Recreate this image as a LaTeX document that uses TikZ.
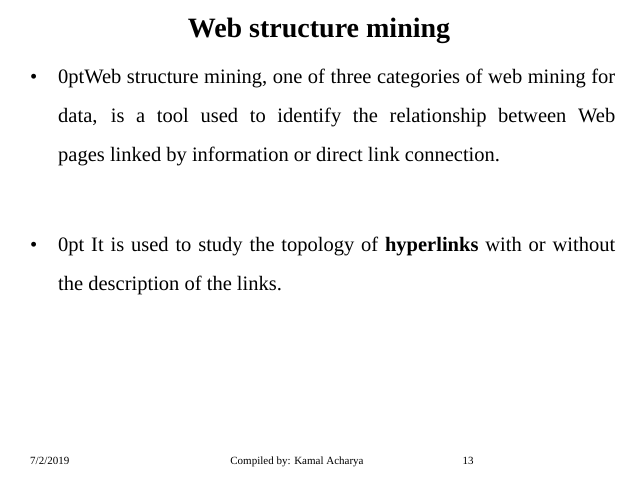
\documentclass[tikz,border=0pt]{standalone}
\usepackage{fontspec}
\setmainfont{Liberation Serif}
\begin{document}
\begin{tikzpicture}[x=1pt,y=1pt,
  body/.style={anchor=north west,inner sep=0pt,text width=557pt,align=justify,font=\fontsize{20.5}{39}\selectfont\hyphenpenalty=10000},
  bul/.style={anchor=base west,inner sep=0pt,font=\fontsize{20.5}{39}\selectfont},
  foot/.style={anchor=base,inner sep=0pt,font=\fontsize{11}{12}\selectfont}]
\useasboundingbox (0,0) rectangle (638,478);
\node[anchor=base,inner sep=0pt,font=\fontsize{28}{30}\selectfont\bfseries] (title) at (319,478-38) {Web structure mining};
\node[bul] (b1) at (30,478-84) {\textbullet};
\node[body] (t1) at (58,478-69) {Web structure mining, one of three categories of web mining for\linebreak data, is a tool used to identify the relationship between Web\linebreak pages linked by information or direct link connection.\par};
\node[bul] (b2) at (30,478-252) {\textbullet};
\node[body] (t2) at (58,478-237) {\ It is used to study the topology of \textbf{hyperlinks} with or without\linebreak the description of the links.\par};
\node[foot,anchor=base west] (f1) at (30,478-465) {7/2/2019};
\node[foot] (f2) at (297,478-465) {Compiled by: Kamal Acharya};
\node[foot] (f3) at (468,478-465) {13};
\end{tikzpicture}
\end{document}
